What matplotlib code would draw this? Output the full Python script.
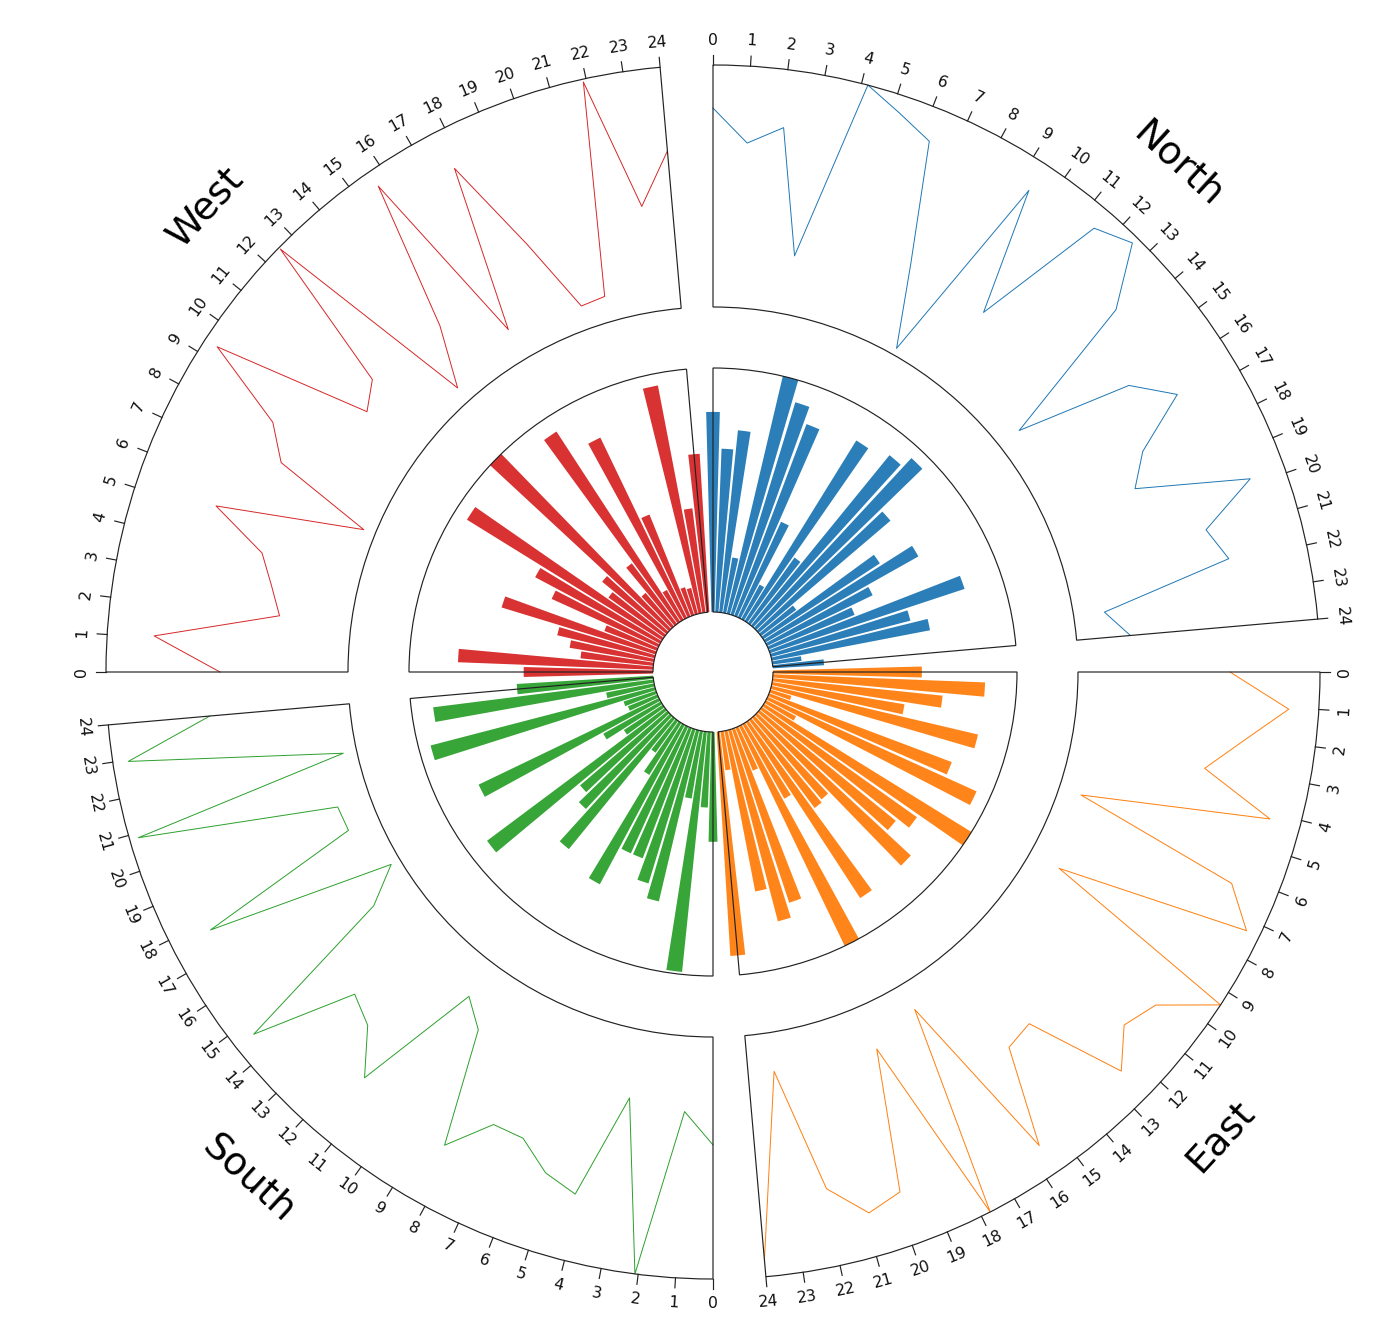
import numpy as np
import matplotlib
matplotlib.use("Agg")
import matplotlib.pyplot as plt

# ---------------- data ----------------
sectors = ["North", "East", "South", "West"]
colors = ["#1f77b4", "#ff7f0e", "#2ca02c", "#d62728"]
tick_labels = [str(i) for i in range(25)]

north_line = [82.2, 68.2, 76.0, 24.4, 100.0, 92.6, 86.0, 36.4, 2.9, 87.2, 35.1, 90.9,
              97.1, 73.1, 10.3, 57.9, 72.7, 48.8, 39.3, 85.1, 61.2, 67.4, 12.8, 22.3]
east_line = [62.8, 87.6, 70.2, 56.2, 87.2, 9.5, 80.6, 94.2, 13.6, 100.0, 78.1, 73.1,
             85.1, 44.6, 46.7, 86.8, 11.6, 100.0, 19.0, 77.5, 81.8, 67.8, 16.1, 93.0]
south_line = [44.6, 31.2, 100.0, 28.5, 72.3, 67.4, 57.2, 57.0, 74.0, 26.0, 16.9, 70.2,
              53.3, 48.3, 90.9, 19.4, 4.1, 82.6, 13.4, 14.0, 96.3, 5.6, 93.6, 57.9]
west_line = [52.9, 80.6, 29.8, 35.1, 41.9, 65.7, 5.0, 47.5, 58.3, 94.2, 28.1, 34.7,
             99.2, 7.0, 31.4, 93.0, 14.0, 83.1, 41.7, 9.9, 10.7, 98.8, 43.8, 65.3]

north_bars = [82, 67, 75, 23, 100, 91, 84, 43, 16, 87, 33, 90,
              95, 71, 18, 57, 72, 48, 38, 84, 59, 66, 12, 21]
east_bars = [61, 87, 70, 55, 87, 9, 80, 94, 14, 100, 78, 72,
             86, 44, 45, 86, 35, 100, 19, 75, 81, 67, 16, 92]
south_bars = [45, 31, 99, 28, 72, 66, 57, 57, 74, 25, 16, 69,
              52, 47, 91, 19, 27, 82, 13, 14, 95, 20, 91, 56]
west_bars = [53, 80, 30, 35, 41, 66, 23, 48, 58, 94, 28, 34,
             100, 18, 31, 93, 14, 82, 45, 12, 11, 95, 43, 65]

line_data = [north_line, east_line, south_line, west_line]
bar_data = [north_bars, east_bars, south_bars, west_bars]

# ---------------- layout ----------------
W, H, DPI = 1400, 1339, 100
cx, cy = 713, 672          # centre of the circle (pixels, from top-left)
R = 700                    # polar axis radius (data units == pixels)

fig = plt.figure(figsize=(W / DPI, H / DPI), dpi=DPI)
fig.patch.set_facecolor("white")
ax = fig.add_axes([(cx - R) / W, (H - cy - R) / H, 2 * R / W, 2 * R / H],
                  projection="polar")
ax.set_theta_zero_location("N")
ax.set_theta_direction(-1)
ax.set_ylim(0, R)
ax.axis("off")

SPAN = 85.0
XMAX = 24.0
sector_start = [0, 90, 180, 270]
x_pts = np.linspace(0, XMAX, len(north_line))

BAR_R0, BAR_R1 = 60, 304
LINE_R0, LINE_R1 = 365, 607
EDGE = "#222222"


def theta(start, x):
    return np.deg2rad(start + np.asarray(x, dtype=float) / XMAX * SPAN)


def rot_for(deg):
    deg = deg % 360
    if 90 <= deg < 270:
        return 180 - deg
    return -deg


for name, col, start, lv, bv in zip(sectors, colors, sector_start, line_data, bar_data):
    # bar track
    ax.bar(theta(start, x_pts), np.asarray(bv) / 100 * (BAR_R1 - BAR_R0),
           width=np.deg2rad(0.85 * SPAN / XMAX), bottom=BAR_R0, color=col,
           alpha=0.95, linewidth=0, zorder=2)
    ax.bar(np.deg2rad(start + SPAN / 2), BAR_R1 - BAR_R0, width=np.deg2rad(SPAN),
           bottom=BAR_R0, fill=False, edgecolor=EDGE, linewidth=0.85, zorder=3)

    # line track
    ax.plot(theta(start, x_pts), LINE_R0 + np.asarray(lv) / 100 * (LINE_R1 - LINE_R0),
            color=col, linewidth=0.7, zorder=2)
    ax.bar(np.deg2rad(start + SPAN / 2), LINE_R1 - LINE_R0, width=np.deg2rad(SPAN),
           bottom=LINE_R0, fill=False, edgecolor=EDGE, linewidth=0.85, zorder=3)

    # ticks + labels
    for i, lab in enumerate(tick_labels):
        th = theta(start, i)
        ax.plot([th, th], [LINE_R1, LINE_R1 + 10], color=EDGE, linewidth=0.85,
                zorder=3, clip_on=False)
        deg = start + i / XMAX * SPAN
        ax.text(th, 632, lab, rotation=rot_for(deg), rotation_mode="anchor",
                ha="center", va="center", fontsize=11.3, color="#111111",
                clip_on=False)

    # sector name
    mid = start + SPAN / 2
    ax.text(np.deg2rad(mid), 688, name, rotation=rot_for(mid), rotation_mode="anchor",
            ha="center", va="center", fontsize=27.5, color="black", clip_on=False)

fig.savefig("out.png", dpi=DPI, facecolor="white")
